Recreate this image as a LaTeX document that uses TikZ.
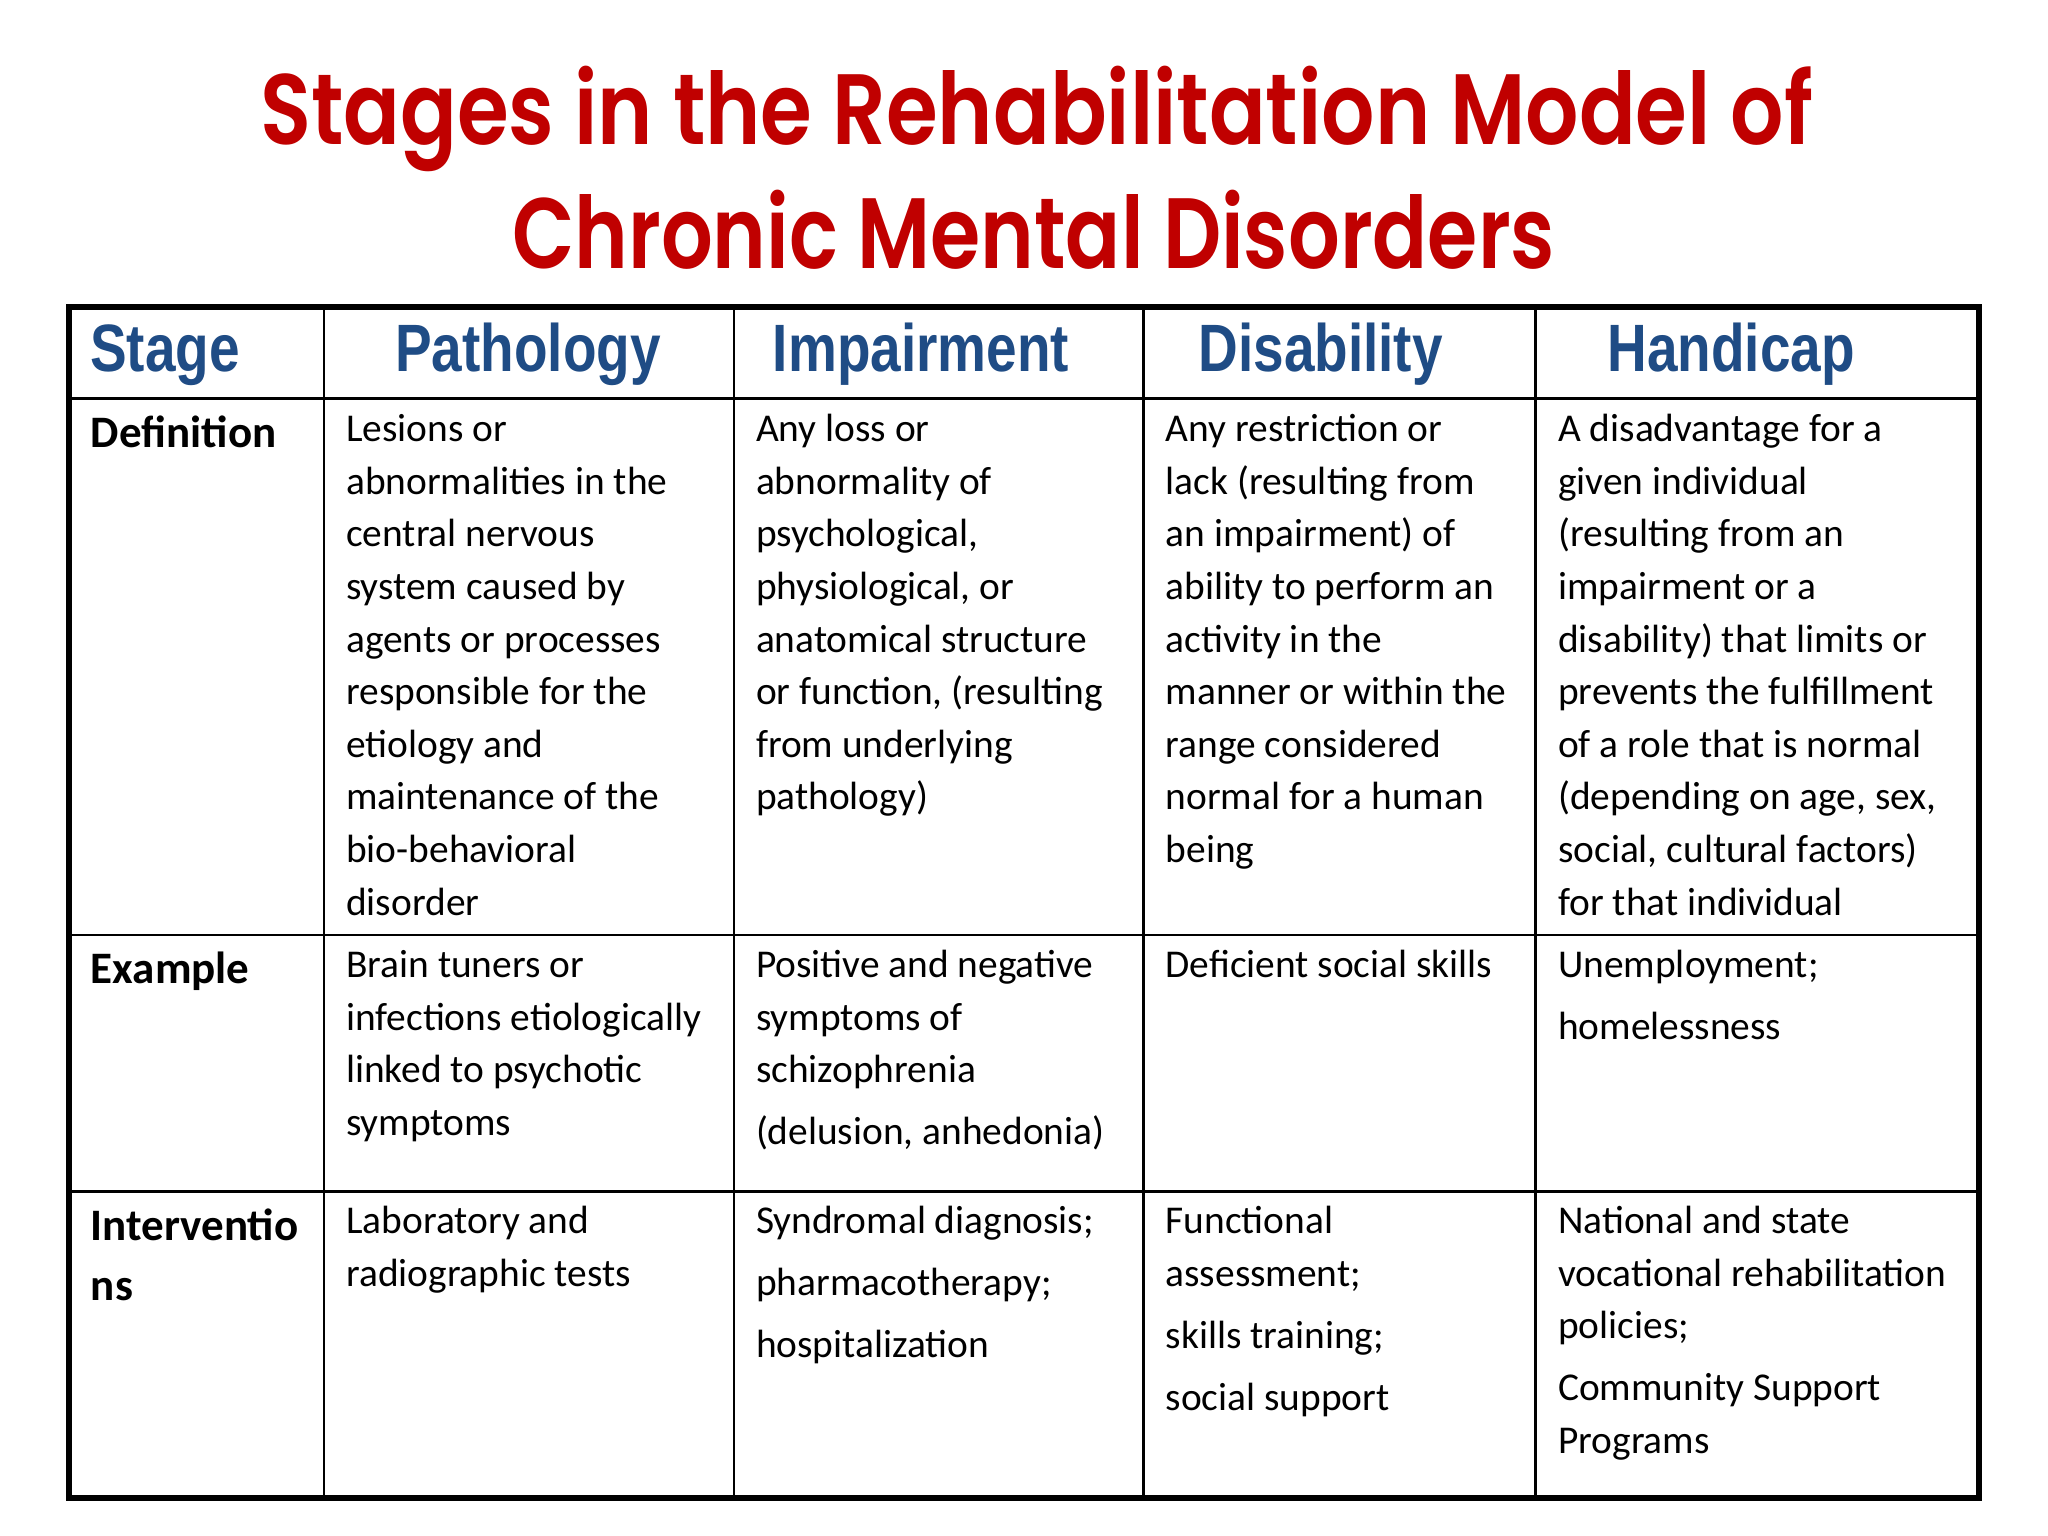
\documentclass[tikz,border=0pt]{standalone}
\usepackage{fontspec}
\usepackage{graphicx}
\newfontfamily\bodyfont{Carlito}
\newfontfamily\headfont{Liberation Sans}[FakeStretch=0.82]
\newfontfamily\titlefont{Poppins SemiBold}
\definecolor{titlered}{RGB}{192,0,0}
\definecolor{headblue}{RGB}{31,76,133}
\newcommand{\mylines}[1]{\begin{tabular}[t]{@{}l@{}}#1\end{tabular}}
\begin{document}
\begin{tikzpicture}[x=1pt,y=-1pt,
  body/.style={anchor=base west, inner sep=0pt, font=\bodyfont\fontsize{39.4}{52.6}\selectfont},
  rowlabel/.style={anchor=base west, inner sep=0pt, font=\bodyfont\bfseries\fontsize{45}{60.5}\selectfont},
  head/.style={anchor=base west, inner sep=0pt, text=headblue, font=\headfont\bfseries\fontsize{67}{80}\selectfont},
  ttl/.style={anchor=base west, inner sep=0pt, text=titlered, font=\titlefont\fontsize{100}{120}\selectfont},
  gridline/.style={line width=2.5pt, black},
  outerline/.style={line width=6.5pt, black}]
\useasboundingbox (0,0) rectangle (2048,1536);
\fill[white] (0,0) rectangle (2048,1536);
% title
\node[ttl] (t1) at (260,145) {\resizebox{1553pt}{\height}{Stages in the Rehabilitation Model of}};
\node[ttl] (t2) at (512,268.3) {\resizebox{1043pt}{\height}{Chronic Mental Disorders}};
% grid
\draw[gridline] (324,307) -- (324,1498);
\draw[gridline] (734,307) -- (734,1498);
\draw[gridline] (1143.3,307) -- (1143.3,1498);
\draw[gridline] (1535.5,307) -- (1535.5,1498);
\draw[gridline] (69,398.4) -- (1979,398.4);
\draw[gridline] (69,935) -- (1979,935);
\draw[gridline] (69,1191.7) -- (1979,1191.7);
\draw[outerline] (69,307) rectangle (1979,1498);
% header
\node[head] (hs) at (90,371) {Stage};
\node[head] (hp) at (395,371) {Pathology};
\node[head] (hi) at (772.7,371) {Impairment};
\node[head] (hd) at (1198.3,371) {Disability};
\node[head] (hh) at (1607.3,371) {Handicap};
% row labels
\node[rowlabel] (ldef) at (90.7,447.7) {\mylines{Definition}};
\node[rowlabel] (lex) at (90.7,983.3) {\mylines{Example}};
\node[rowlabel] (lint) at (90.7,1240) {\mylines{Interventio\\ns}};
% definition row
\node[body] (p1) at (346,441.7) {\mylines{Lesions or\\abnormalities in the\\central nervous\\system caused by\\agents or processes\\responsible for the\\etiology and\\maintenance of the\\bio-behavioral\\disorder}};
\node[body] (i1) at (755.8,441.7) {\mylines{Any loss or\\abnormality of\\psychological,\\physiological, or\\anatomical structure\\or function, (resulting\\from underlying\\pathology)}};
\node[body] (d1) at (1165.5,441.7) {\mylines{Any restriction or\\lack (resulting from\\an impairment) of\\ability to perform an\\activity in the\\manner or within the\\range considered\\normal for a human\\being}};
\node[body] (h1) at (1558,441.7) {\mylines{A disadvantage for a\\given individual\\(resulting from an\\impairment or a\\disability) that limits or\\prevents the fulfillment\\of a role that is normal\\(depending on age, sex,\\social, cultural factors)\\for that individual}};
% example row
\node[body] (p2) at (346,977.5) {\mylines{Brain tuners or\\infections etiologically\\linked to psychotic\\symptoms}};
\node[body] (i2) at (755.8,977.5) {\mylines{Positive and negative\\symptoms of\\schizophrenia\\[9.5pt](delusion, anhedonia)}};
\node[body] (d2) at (1165.5,977.5) {\mylines{Deficient social skills}};
\node[body] (h2) at (1558,977.5) {\mylines{Unemployment;\\[9.5pt]homelessness}};
% interventions row
\node[body] (p3) at (346,1233.5) {\mylines{Laboratory and\\radiographic tests}};
\node[body] (i3) at (755.8,1233.5) {\mylines{Syndromal diagnosis;\\[9.5pt]pharmacotherapy;\\[9.5pt]hospitalization}};
\node[body] (d3) at (1165.5,1233.5) {\mylines{Functional\\assessment;\\[9.5pt]skills training;\\[9.5pt]social support}};
\node[body] (h3) at (1558,1233.5) {\mylines{National and state\\vocational rehabilitation\\policies;\\[9.5pt]Community Support\\Programs}};
\end{tikzpicture}
\end{document}
